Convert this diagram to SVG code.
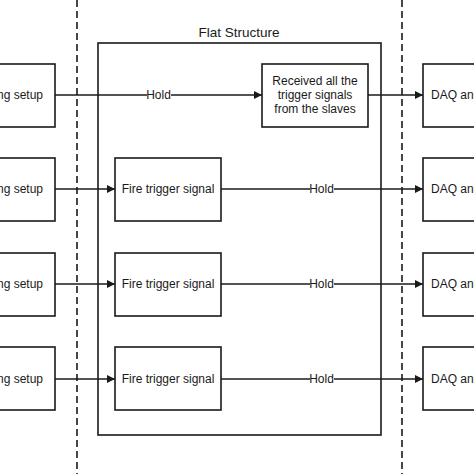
<svg xmlns="http://www.w3.org/2000/svg" width="474" height="474" viewBox="0 0 474 474">
<style>
.box{fill:#fff;stroke:#1a1a1a;stroke-width:1.6}
.t{font-family:"Liberation Sans",Arial,sans-serif;font-size:12px;fill:#1a1a1a}
.c{text-anchor:middle}
.ln{stroke:#1a1a1a;stroke-width:1.6;fill:none}
.dash{stroke:#1a1a1a;stroke-width:1.6;stroke-dasharray:7,4}
.lbl{fill:#fff}
</style>
<defs>
<marker id="ah" viewBox="0 0 10 10" refX="10" refY="5" markerWidth="8" markerHeight="8" markerUnits="userSpaceOnUse" orient="auto">
<path d="M0,0 L10,5 L0,10 z" fill="#1a1a1a"/>
</marker>
</defs>
<rect width="474" height="474" fill="#fff"/>
<line class="dash" x1="77" y1="0" x2="77" y2="474"/>
<line class="dash" x1="402" y1="0" x2="402" y2="474"/>
<g id="flat">
<rect class="box" x="98" y="43" width="283" height="392" style="fill:none"/>
<text class="t c" x="239" y="37" style="font-size:13.5px">Flat Structure</text>
</g>
<g id="left1"><rect class="box" x="-10" y="64" width="65" height="63"/><text class="t" x="-3" y="99">ng setup</text></g>
<g id="left2"><rect class="box" x="-10" y="158" width="65" height="63"/><text class="t" x="-3" y="193">ng setup</text></g>
<g id="left3"><rect class="box" x="-10" y="253" width="65" height="63"/><text class="t" x="-3" y="288">ng setup</text></g>
<g id="left4"><rect class="box" x="-10" y="347" width="65" height="63"/><text class="t" x="-3" y="383">ng setup</text></g>
<g id="recv"><rect class="box" x="262" y="64" width="106" height="63"/>
<text class="t c" x="315" y="85">Received all the</text>
<text class="t c" x="315" y="99">trigger signals</text>
<text class="t c" x="315" y="113">from the slaves</text></g>
<g id="fire1"><rect class="box" x="115" y="158" width="106" height="63"/><text class="t c" x="168" y="193">Fire trigger signal</text></g>
<g id="fire2"><rect class="box" x="115" y="253" width="106" height="63"/><text class="t c" x="168" y="288">Fire trigger signal</text></g>
<g id="fire3"><rect class="box" x="115" y="347" width="106" height="63"/><text class="t c" x="168" y="383">Fire trigger signal</text></g>
<g id="right1"><rect class="box" x="423" y="64" width="70" height="63"/><text class="t" x="431" y="99">DAQ and</text></g>
<g id="right2"><rect class="box" x="423" y="158" width="70" height="63"/><text class="t" x="431" y="193">DAQ and</text></g>
<g id="right3"><rect class="box" x="423" y="253" width="70" height="63"/><text class="t" x="431" y="288">DAQ and</text></g>
<g id="right4"><rect class="box" x="423" y="347" width="70" height="63"/><text class="t" x="431" y="383">DAQ and</text></g>
<g id="connectors">
<line class="ln" x1="55" y1="95" x2="262" y2="95" marker-end="url(#ah)"/>
<line class="ln" x1="368" y1="95" x2="423" y2="95" marker-end="url(#ah)"/>
<line class="ln" x1="55" y1="189" x2="115" y2="189" marker-end="url(#ah)"/>
<line class="ln" x1="221" y1="189" x2="423" y2="189" marker-end="url(#ah)"/>
<line class="ln" x1="55" y1="284" x2="115" y2="284" marker-end="url(#ah)"/>
<line class="ln" x1="221" y1="284" x2="423" y2="284" marker-end="url(#ah)"/>
<line class="ln" x1="55" y1="379" x2="115" y2="379" marker-end="url(#ah)"/>
<line class="ln" x1="221" y1="379" x2="423" y2="379" marker-end="url(#ah)"/>
<rect class="lbl" x="147" y="89" width="24" height="12"/><text class="t c" x="158.5" y="99">Hold</text>
<rect class="lbl" x="310" y="183" width="24" height="12"/><text class="t c" x="321.5" y="193">Hold</text>
<rect class="lbl" x="310" y="278" width="24" height="12"/><text class="t c" x="321.5" y="288">Hold</text>
<rect class="lbl" x="310" y="373" width="24" height="12"/><text class="t c" x="321.5" y="383">Hold</text>
</g>
</svg>
